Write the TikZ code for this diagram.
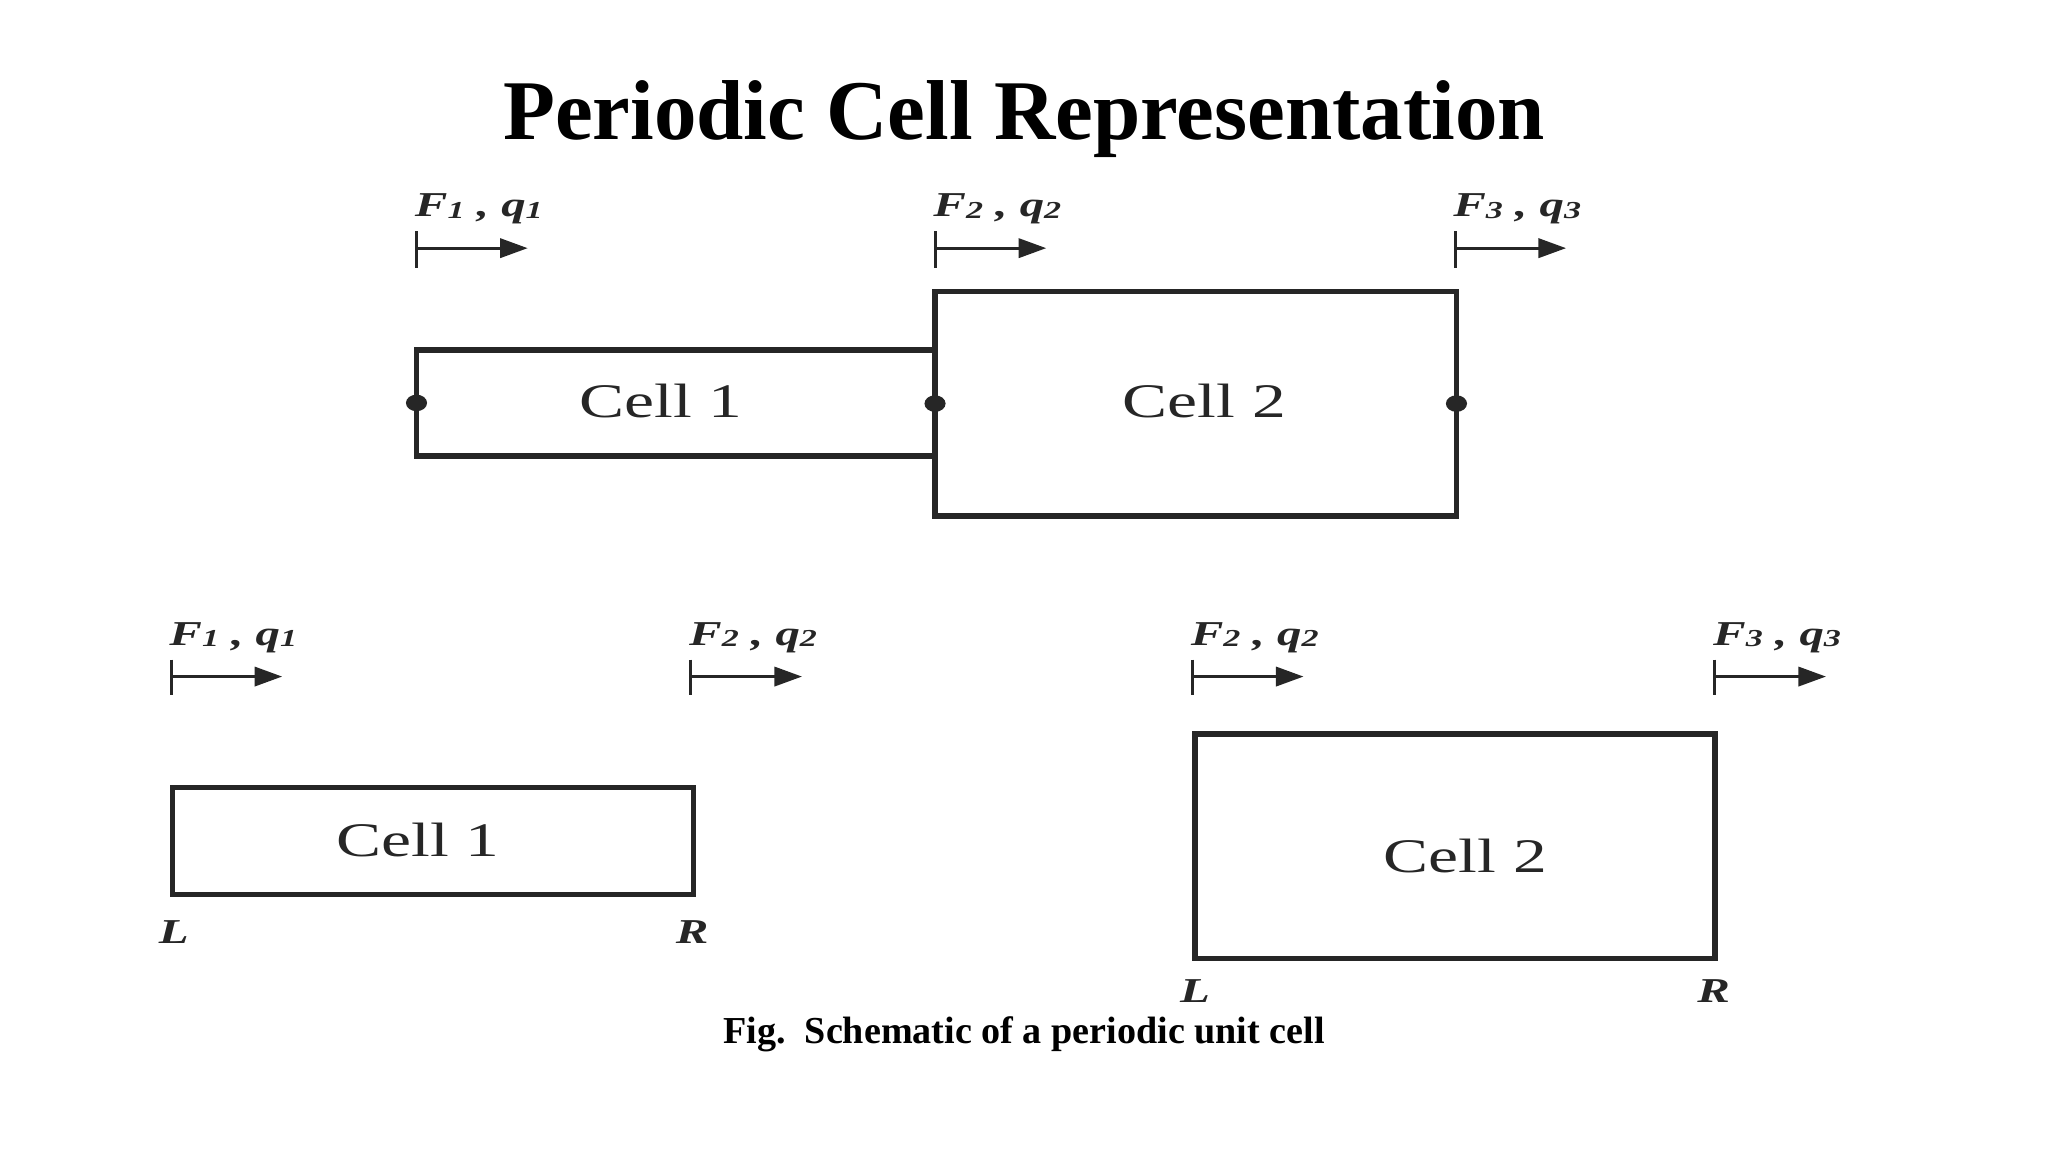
\documentclass[tikz,border=0pt]{standalone}
\usepackage{fontspec}
\usepackage{graphicx}
\setmainfont{Liberation Serif}
\usetikzlibrary{arrows.meta}
\definecolor{ink}{gray}{0.15}
\newcommand{\wide}[1]{\scalebox{1.4}[1]{#1}}
\newcommand{\fsub}[1]{\raisebox{-0.1ex}{\fontsize{5.3}{5.3}\selectfont #1}}
\newcommand{\flab}[1]{\wide{\bfseries\itshape F\fsub{#1}\ ,\ q\fsub{#1}}}
\begin{document}
\begin{tikzpicture}[x=0.01cm,y=-0.01cm,
  cellbox/.style={draw=ink, line width=1.15pt, inner sep=0pt, outer sep=0pt},
  celltext/.style={font=\fontsize{10.5}{12}\selectfont, text=ink, inner sep=0pt},
  flabel/.style={font=\fontsize{7.6}{8}\selectfont, text=ink, anchor=west, inner sep=0pt},
  lrlabel/.style={font=\fontsize{7.6}{8}\selectfont\bfseries\itshape, text=ink, inner sep=0pt},
  tick/.style={draw=ink, line width=0.65pt},
  farrow/.style={draw=ink, line width=0.6pt, -{Triangle[length=6pt,width=4.2pt]}},
  joint/.style={fill=ink}]
\useasboundingbox (0,0) rectangle (1568,882);
% title
\node[font=\fontsize{18.5}{22}\selectfont\bfseries, anchor=base] (title) at (784,107) {Periodic Cell Representation};
% ---------- top assembly ----------
\node[cellbox, minimum width=3.99cm, minimum height=1.72cm] (tc2) at (915.5,309) {};
\node[cellbox, minimum width=3.97cm, minimum height=0.81cm] (tc1) at (517.5,308.5) {};
\node[celltext] (tc1t) at (506,307) {\wide{Cell 1}};
\node[celltext] (tc2t) at (922,307) {\wide{Cell 2}};
\fill[joint] (tc1.west) ellipse [x radius=2.3pt, y radius=1.8pt];
\fill[joint] (tc2.west) ellipse [x radius=2.3pt, y radius=1.8pt];
\fill[joint] (tc2.east) ellipse [x radius=2.3pt, y radius=1.8pt];
% top arrows
\foreach \n/\x in {1/319,2/716,3/1114}{
  \coordinate (ta\n) at (\x,190);
  \coordinate (ta\n e) at (\x+85,190);
  \coordinate (tt\n a) at (\x,177);
  \coordinate (tt\n b) at (\x,205);
  \draw[tick] (tt\n a) -- (tt\n b);
  \draw[farrow] (ta\n) -- (ta\n e);
  \node[flabel] (tl\n) at (\x-2,160) {\flab{\n}};
}
% ---------- bottom left ----------
\node[cellbox, minimum width=3.99cm, minimum height=0.82cm] (bc1) at (331.5,644) {};
\node[celltext] (bc1t) at (320,643) {\wide{Cell 1}};
\node[lrlabel] (bl1) at (133,714) {\wide{L}};
\node[lrlabel] (br1) at (530,714) {\wide{R}};
\foreach \n/\k/\x in {4/1/131,5/2/529,6/2/913,7/3/1313}{
  \coordinate (ba\n) at (\x,518);
  \coordinate (ba\n e) at (\x+85,518);
  \coordinate (bt\n a) at (\x,505);
  \coordinate (bt\n b) at (\x,532);
  \draw[tick] (bt\n a) -- (bt\n b);
  \draw[farrow] (ba\n) -- (ba\n e);
  \node[flabel] (bl\n) at (\x-2,488) {\flab{\k}};
}
% ---------- bottom right ----------
\node[cellbox, minimum width=3.98cm, minimum height=1.72cm] (bc2) at (1114,648) {};
\node[celltext] (bc2t) at (1122,655) {\wide{Cell 2}};
\node[lrlabel] (bl2) at (915,759) {\wide{L}};
\node[lrlabel] (br2) at (1312,759) {\wide{R}};
% caption
\node[font=\fontsize{8.3}{10}\selectfont\bfseries, anchor=base] (cap) at (784,799) {Fig.\ \ Schematic of a periodic unit cell};
\end{tikzpicture}
\end{document}
